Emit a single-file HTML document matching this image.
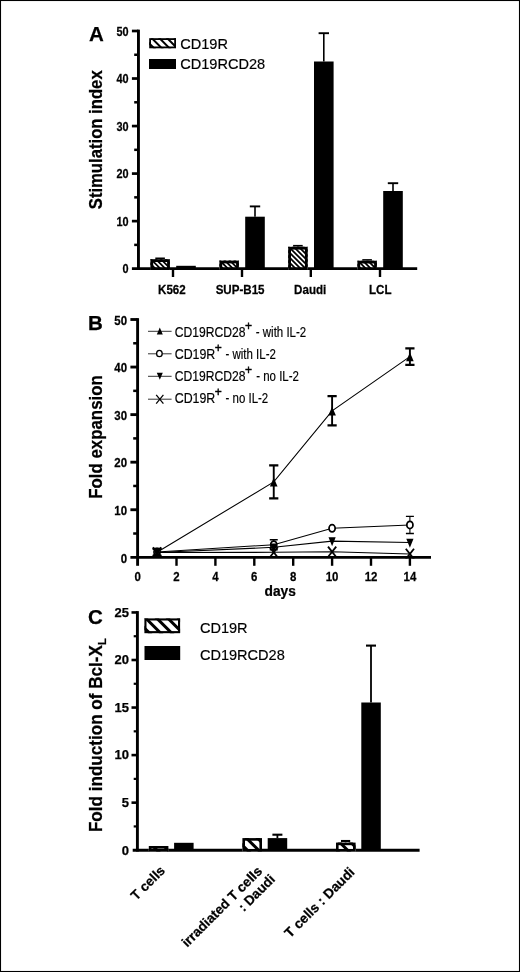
<!DOCTYPE html>
<html lang="en"><head><meta charset="utf-8"><title>Figure</title>
<style>html,body{margin:0;padding:0;background:#fff}svg{display:block}text{font-family:"Liberation Sans", Arial, Helvetica, sans-serif;fill:#000;stroke:#000;stroke-width:0.18px}.b{font-weight:bold;stroke:#000;stroke-width:0.25px}</style></head><body>
<svg width="520" height="972" viewBox="0 0 520 972">
<rect x="0" y="0" width="520" height="972" fill="#fff"/>
<rect x="0.5" y="0.5" width="519" height="971" fill="none" stroke="#000" stroke-width="1.1"/>
<line x1="138.45" y1="29.65" x2="138.45" y2="270.00" stroke="#000" stroke-width="2.90" />
<line x1="131.90" y1="268.65" x2="417.20" y2="268.65" stroke="#000" stroke-width="2.70" />
<text transform="translate(128.70 273.20) scale(0.86 1)" font-size="12.7" text-anchor="end" class="b">0</text>
<line x1="134.20" y1="244.88" x2="138.45" y2="244.88" stroke="#000" stroke-width="2.50" />
<line x1="131.90" y1="221.12" x2="138.45" y2="221.12" stroke="#000" stroke-width="2.70" />
<text transform="translate(128.70 225.67) scale(0.86 1)" font-size="12.7" text-anchor="end" class="b">10</text>
<line x1="134.20" y1="197.35" x2="138.45" y2="197.35" stroke="#000" stroke-width="2.50" />
<line x1="131.90" y1="173.59" x2="138.45" y2="173.59" stroke="#000" stroke-width="2.70" />
<text transform="translate(128.70 178.14) scale(0.86 1)" font-size="12.7" text-anchor="end" class="b">20</text>
<line x1="134.20" y1="149.82" x2="138.45" y2="149.82" stroke="#000" stroke-width="2.50" />
<line x1="131.90" y1="126.06" x2="138.45" y2="126.06" stroke="#000" stroke-width="2.70" />
<text transform="translate(128.70 130.61) scale(0.86 1)" font-size="12.7" text-anchor="end" class="b">30</text>
<line x1="134.20" y1="102.29" x2="138.45" y2="102.29" stroke="#000" stroke-width="2.50" />
<line x1="131.90" y1="78.53" x2="138.45" y2="78.53" stroke="#000" stroke-width="2.70" />
<text transform="translate(128.70 83.08) scale(0.86 1)" font-size="12.7" text-anchor="end" class="b">40</text>
<line x1="134.20" y1="54.76" x2="138.45" y2="54.76" stroke="#000" stroke-width="2.50" />
<line x1="131.90" y1="31.00" x2="138.45" y2="31.00" stroke="#000" stroke-width="2.70" />
<text transform="translate(128.70 35.55) scale(0.86 1)" font-size="12.7" text-anchor="end" class="b">50</text>
<text transform="translate(89.00 40.70)" font-size="20.5" text-anchor="start" class="b">A</text>
<text transform="translate(101.80 139.80) rotate(-90) scale(0.937 1)" font-size="17.8" text-anchor="middle" class="b">Stimulation index</text>
<clipPath id="c1"><rect x="149.20" y="38.20" width="26.80" height="10.10"/></clipPath>
<rect x="149.20" y="38.20" width="26.80" height="10.10" fill="#fff"/>
<g clip-path="url(#c1)" stroke="#000" stroke-width="2.00">
<line x1="126.70" y1="36.20" x2="140.80" y2="50.30"/>
<line x1="134.40" y1="36.20" x2="148.50" y2="50.30"/>
<line x1="142.10" y1="36.20" x2="156.20" y2="50.30"/>
<line x1="149.80" y1="36.20" x2="163.90" y2="50.30"/>
<line x1="157.50" y1="36.20" x2="171.60" y2="50.30"/>
<line x1="165.20" y1="36.20" x2="179.30" y2="50.30"/>
<line x1="172.90" y1="36.20" x2="187.00" y2="50.30"/>
<line x1="180.60" y1="36.20" x2="194.70" y2="50.30"/>
<line x1="188.30" y1="36.20" x2="202.40" y2="50.30"/>
</g>
<rect x="150.10" y="39.10" width="25.00" height="8.30" fill="none" stroke="#000" stroke-width="1.80"/>
<rect x="149" y="59" width="27" height="10" fill="#000"/>
<text transform="translate(180.20 48.60)" font-size="14.55" text-anchor="start">CD19R</text>
<text transform="translate(180.20 69.10)" font-size="14.55" text-anchor="start">CD19RCD28</text>
<line x1="173.00" y1="268.65" x2="173.00" y2="277.00" stroke="#000" stroke-width="2.40" />
<text transform="translate(171.90 293.50) scale(0.92 1)" font-size="12.6" text-anchor="middle" class="b">K562</text>
<line x1="160.10" y1="258.40" x2="160.10" y2="259.20" stroke="#000" stroke-width="1.50" />
<line x1="155.30" y1="258.40" x2="164.90" y2="258.40" stroke="#000" stroke-width="1.80" />
<clipPath id="c2"><rect x="150.40" y="259.20" width="19.50" height="10.80"/></clipPath>
<rect x="150.40" y="259.20" width="19.50" height="10.80" fill="#fff"/>
<g clip-path="url(#c2)" stroke="#000" stroke-width="1.75">
<line x1="128.90" y1="257.20" x2="143.70" y2="272.00"/>
<line x1="133.90" y1="257.20" x2="148.70" y2="272.00"/>
<line x1="138.90" y1="257.20" x2="153.70" y2="272.00"/>
<line x1="143.90" y1="257.20" x2="158.70" y2="272.00"/>
<line x1="148.90" y1="257.20" x2="163.70" y2="272.00"/>
<line x1="153.90" y1="257.20" x2="168.70" y2="272.00"/>
<line x1="158.90" y1="257.20" x2="173.70" y2="272.00"/>
<line x1="163.90" y1="257.20" x2="178.70" y2="272.00"/>
<line x1="168.90" y1="257.20" x2="183.70" y2="272.00"/>
<line x1="173.90" y1="257.20" x2="188.70" y2="272.00"/>
</g>
<rect x="151.80" y="260.60" width="16.70" height="8.00" fill="none" stroke="#000" stroke-width="2.80"/>
<rect x="176.20" y="265.80" width="19.60" height="2.85" fill="#000"/>
<line x1="242.00" y1="268.65" x2="242.00" y2="277.00" stroke="#000" stroke-width="2.40" />
<text transform="translate(240.10 293.50) scale(0.92 1)" font-size="12.6" text-anchor="middle" class="b">SUP-B15</text>
<clipPath id="c3"><rect x="219.40" y="260.60" width="19.50" height="9.40"/></clipPath>
<rect x="219.40" y="260.60" width="19.50" height="9.40" fill="#fff"/>
<g clip-path="url(#c3)" stroke="#000" stroke-width="1.75">
<line x1="202.90" y1="258.60" x2="216.30" y2="272.00"/>
<line x1="207.90" y1="258.60" x2="221.30" y2="272.00"/>
<line x1="212.90" y1="258.60" x2="226.30" y2="272.00"/>
<line x1="217.90" y1="258.60" x2="231.30" y2="272.00"/>
<line x1="222.90" y1="258.60" x2="236.30" y2="272.00"/>
<line x1="227.90" y1="258.60" x2="241.30" y2="272.00"/>
<line x1="232.90" y1="258.60" x2="246.30" y2="272.00"/>
<line x1="237.90" y1="258.60" x2="251.30" y2="272.00"/>
<line x1="242.90" y1="258.60" x2="256.30" y2="272.00"/>
</g>
<rect x="220.80" y="262.00" width="16.70" height="6.60" fill="none" stroke="#000" stroke-width="2.80"/>
<line x1="255.00" y1="206.40" x2="255.00" y2="216.70" stroke="#000" stroke-width="1.60" />
<line x1="249.80" y1="206.40" x2="260.20" y2="206.40" stroke="#000" stroke-width="1.90" />
<rect x="245.20" y="216.70" width="19.60" height="51.95" fill="#000"/>
<line x1="310.80" y1="268.65" x2="310.80" y2="277.00" stroke="#000" stroke-width="2.40" />
<text transform="translate(310.20 293.50) scale(0.92 1)" font-size="12.6" text-anchor="middle" class="b">Daudi</text>
<line x1="297.90" y1="245.80" x2="297.90" y2="246.80" stroke="#000" stroke-width="1.50" />
<line x1="293.10" y1="245.80" x2="302.70" y2="245.80" stroke="#000" stroke-width="1.80" />
<clipPath id="c4"><rect x="288.20" y="246.80" width="19.50" height="23.20"/></clipPath>
<rect x="288.20" y="246.80" width="19.50" height="23.20" fill="#fff"/>
<g clip-path="url(#c4)" stroke="#000" stroke-width="1.75">
<line x1="256.70" y1="244.80" x2="283.90" y2="272.00"/>
<line x1="261.70" y1="244.80" x2="288.90" y2="272.00"/>
<line x1="266.70" y1="244.80" x2="293.90" y2="272.00"/>
<line x1="271.70" y1="244.80" x2="298.90" y2="272.00"/>
<line x1="276.70" y1="244.80" x2="303.90" y2="272.00"/>
<line x1="281.70" y1="244.80" x2="308.90" y2="272.00"/>
<line x1="286.70" y1="244.80" x2="313.90" y2="272.00"/>
<line x1="291.70" y1="244.80" x2="318.90" y2="272.00"/>
<line x1="296.70" y1="244.80" x2="323.90" y2="272.00"/>
<line x1="301.70" y1="244.80" x2="328.90" y2="272.00"/>
<line x1="306.70" y1="244.80" x2="333.90" y2="272.00"/>
<line x1="311.70" y1="244.80" x2="338.90" y2="272.00"/>
</g>
<rect x="289.60" y="248.20" width="16.70" height="20.40" fill="none" stroke="#000" stroke-width="2.80"/>
<line x1="323.80" y1="33.20" x2="323.80" y2="61.50" stroke="#000" stroke-width="1.60" />
<line x1="318.60" y1="33.20" x2="329.00" y2="33.20" stroke="#000" stroke-width="1.90" />
<rect x="314.00" y="61.50" width="19.60" height="207.15" fill="#000"/>
<line x1="380.00" y1="268.65" x2="380.00" y2="277.00" stroke="#000" stroke-width="2.40" />
<text transform="translate(380.20 293.50) scale(0.92 1)" font-size="12.6" text-anchor="middle" class="b">LCL</text>
<line x1="367.10" y1="260.00" x2="367.10" y2="260.70" stroke="#000" stroke-width="1.50" />
<line x1="362.30" y1="260.00" x2="371.90" y2="260.00" stroke="#000" stroke-width="1.80" />
<clipPath id="c5"><rect x="357.40" y="260.70" width="19.50" height="9.30"/></clipPath>
<rect x="357.40" y="260.70" width="19.50" height="9.30" fill="#fff"/>
<g clip-path="url(#c5)" stroke="#000" stroke-width="1.75">
<line x1="340.90" y1="258.70" x2="354.20" y2="272.00"/>
<line x1="345.90" y1="258.70" x2="359.20" y2="272.00"/>
<line x1="350.90" y1="258.70" x2="364.20" y2="272.00"/>
<line x1="355.90" y1="258.70" x2="369.20" y2="272.00"/>
<line x1="360.90" y1="258.70" x2="374.20" y2="272.00"/>
<line x1="365.90" y1="258.70" x2="379.20" y2="272.00"/>
<line x1="370.90" y1="258.70" x2="384.20" y2="272.00"/>
<line x1="375.90" y1="258.70" x2="389.20" y2="272.00"/>
<line x1="380.90" y1="258.70" x2="394.20" y2="272.00"/>
</g>
<rect x="358.80" y="262.10" width="16.70" height="6.50" fill="none" stroke="#000" stroke-width="2.80"/>
<line x1="393.00" y1="183.20" x2="393.00" y2="191.00" stroke="#000" stroke-width="1.60" />
<line x1="387.80" y1="183.20" x2="398.20" y2="183.20" stroke="#000" stroke-width="1.90" />
<rect x="383.20" y="191.00" width="19.60" height="77.65" fill="#000"/>
<line x1="137.60" y1="318.15" x2="137.60" y2="565.80" stroke="#000" stroke-width="2.90" />
<line x1="130.40" y1="557.30" x2="431.00" y2="557.30" stroke="#000" stroke-width="2.70" />
<text transform="translate(127.10 562.55) scale(0.875 1)" font-size="13.1" text-anchor="end" class="b">0</text>
<line x1="133.20" y1="533.52" x2="137.60" y2="533.52" stroke="#000" stroke-width="2.50" />
<line x1="130.40" y1="509.74" x2="137.60" y2="509.74" stroke="#000" stroke-width="2.85" />
<text transform="translate(127.10 514.99) scale(0.875 1)" font-size="13.1" text-anchor="end" class="b">10</text>
<line x1="133.20" y1="485.96" x2="137.60" y2="485.96" stroke="#000" stroke-width="2.50" />
<line x1="130.40" y1="462.18" x2="137.60" y2="462.18" stroke="#000" stroke-width="2.85" />
<text transform="translate(127.10 467.43) scale(0.875 1)" font-size="13.1" text-anchor="end" class="b">20</text>
<line x1="133.20" y1="438.40" x2="137.60" y2="438.40" stroke="#000" stroke-width="2.50" />
<line x1="130.40" y1="414.62" x2="137.60" y2="414.62" stroke="#000" stroke-width="2.85" />
<text transform="translate(127.10 419.87) scale(0.875 1)" font-size="13.1" text-anchor="end" class="b">30</text>
<line x1="133.20" y1="390.84" x2="137.60" y2="390.84" stroke="#000" stroke-width="2.50" />
<line x1="130.40" y1="367.06" x2="137.60" y2="367.06" stroke="#000" stroke-width="2.85" />
<text transform="translate(127.10 372.31) scale(0.875 1)" font-size="13.1" text-anchor="end" class="b">40</text>
<line x1="133.20" y1="343.28" x2="137.60" y2="343.28" stroke="#000" stroke-width="2.50" />
<line x1="130.40" y1="319.50" x2="137.60" y2="319.50" stroke="#000" stroke-width="2.85" />
<text transform="translate(127.10 324.75) scale(0.875 1)" font-size="13.1" text-anchor="end" class="b">50</text>
<text transform="translate(137.60 580.60) scale(0.875 1)" font-size="13.1" text-anchor="middle" class="b">0</text>
<line x1="176.50" y1="557.30" x2="176.50" y2="565.80" stroke="#000" stroke-width="2.40" />
<text transform="translate(176.50 580.60) scale(0.875 1)" font-size="13.1" text-anchor="middle" class="b">2</text>
<line x1="215.40" y1="557.30" x2="215.40" y2="565.80" stroke="#000" stroke-width="2.40" />
<text transform="translate(215.40 580.60) scale(0.875 1)" font-size="13.1" text-anchor="middle" class="b">4</text>
<line x1="254.30" y1="557.30" x2="254.30" y2="565.80" stroke="#000" stroke-width="2.40" />
<text transform="translate(254.30 580.60) scale(0.875 1)" font-size="13.1" text-anchor="middle" class="b">6</text>
<line x1="293.20" y1="557.30" x2="293.20" y2="565.80" stroke="#000" stroke-width="2.40" />
<text transform="translate(293.20 580.60) scale(0.875 1)" font-size="13.1" text-anchor="middle" class="b">8</text>
<line x1="332.10" y1="557.30" x2="332.10" y2="565.80" stroke="#000" stroke-width="2.40" />
<text transform="translate(332.10 580.60) scale(0.875 1)" font-size="13.1" text-anchor="middle" class="b">10</text>
<line x1="371.00" y1="557.30" x2="371.00" y2="565.80" stroke="#000" stroke-width="2.40" />
<text transform="translate(371.00 580.60) scale(0.875 1)" font-size="13.1" text-anchor="middle" class="b">12</text>
<line x1="409.90" y1="557.30" x2="409.90" y2="565.80" stroke="#000" stroke-width="2.40" />
<text transform="translate(409.90 580.60) scale(0.875 1)" font-size="13.1" text-anchor="middle" class="b">14</text>
<text transform="translate(280.20 595.80) scale(0.93 1)" font-size="14.8" text-anchor="middle" class="b">days</text>
<text transform="translate(88.00 329.50)" font-size="20.5" text-anchor="start" class="b">B</text>
<text transform="translate(101.80 437.00) rotate(-90) scale(0.948 1)" font-size="17.8" text-anchor="middle" class="b">Fold expansion</text>
<clipPath id="plotB"><rect x="120" y="300" width="340" height="258.60"/></clipPath>
<g clip-path="url(#plotB)">
<polyline points="157.05,552.31 273.75,481.87 332.10,410.82 409.90,356.60" fill="none" stroke="#000" stroke-width="1.08"/>
<line x1="157.05" y1="548.74" x2="157.05" y2="555.87" stroke="#000" stroke-width="1.90" />
<line x1="152.45" y1="548.74" x2="161.65" y2="548.74" stroke="#000" stroke-width="2.20" />
<line x1="152.45" y1="555.87" x2="161.65" y2="555.87" stroke="#000" stroke-width="2.20" />
<polygon points="157.05,548.31 153.25,557.01 160.85,557.01" fill="#000"/>
<line x1="273.75" y1="465.41" x2="273.75" y2="498.33" stroke="#000" stroke-width="1.90" />
<line x1="269.15" y1="465.41" x2="278.35" y2="465.41" stroke="#000" stroke-width="2.20" />
<line x1="269.15" y1="498.33" x2="278.35" y2="498.33" stroke="#000" stroke-width="2.20" />
<polygon points="273.75,477.87 269.95,486.57 277.55,486.57" fill="#000"/>
<line x1="332.10" y1="396.17" x2="332.10" y2="425.46" stroke="#000" stroke-width="1.90" />
<line x1="327.50" y1="396.17" x2="336.70" y2="396.17" stroke="#000" stroke-width="2.20" />
<line x1="327.50" y1="425.46" x2="336.70" y2="425.46" stroke="#000" stroke-width="2.20" />
<polygon points="332.10,406.82 328.30,415.52 335.90,415.52" fill="#000"/>
<line x1="409.90" y1="348.37" x2="409.90" y2="364.82" stroke="#000" stroke-width="1.90" />
<line x1="405.30" y1="348.37" x2="414.50" y2="348.37" stroke="#000" stroke-width="2.20" />
<line x1="405.30" y1="364.82" x2="414.50" y2="364.82" stroke="#000" stroke-width="2.20" />
<polygon points="409.90,352.60 406.10,361.30 413.70,361.30" fill="#000"/>
<polyline points="157.05,552.07 273.75,544.70 332.10,528.29 409.90,524.96" fill="none" stroke="#000" stroke-width="1.08"/>
<line x1="157.05" y1="549.21" x2="157.05" y2="554.92" stroke="#000" stroke-width="1.10" />
<line x1="153.05" y1="549.21" x2="161.05" y2="549.21" stroke="#000" stroke-width="1.40" />
<line x1="153.05" y1="554.92" x2="161.05" y2="554.92" stroke="#000" stroke-width="1.40" />
<ellipse cx="157.05" cy="552.07" rx="3.05" ry="3.65" fill="#fff" stroke="#000" stroke-width="1.75"/>
<line x1="273.75" y1="539.70" x2="273.75" y2="549.69" stroke="#000" stroke-width="1.10" />
<line x1="269.75" y1="539.70" x2="277.75" y2="539.70" stroke="#000" stroke-width="1.40" />
<line x1="269.75" y1="549.69" x2="277.75" y2="549.69" stroke="#000" stroke-width="1.40" />
<ellipse cx="273.75" cy="544.70" rx="3.05" ry="3.65" fill="#fff" stroke="#000" stroke-width="1.75"/>
<ellipse cx="332.10" cy="528.29" rx="3.05" ry="3.65" fill="#fff" stroke="#000" stroke-width="1.75"/>
<line x1="409.90" y1="516.40" x2="409.90" y2="533.52" stroke="#000" stroke-width="1.10" />
<line x1="405.90" y1="516.40" x2="413.90" y2="516.40" stroke="#000" stroke-width="1.40" />
<line x1="405.90" y1="533.52" x2="413.90" y2="533.52" stroke="#000" stroke-width="1.40" />
<ellipse cx="409.90" cy="524.96" rx="3.05" ry="3.65" fill="#fff" stroke="#000" stroke-width="1.75"/>
<polyline points="157.05,552.54 273.75,547.31 332.10,541.13 409.90,542.56" fill="none" stroke="#000" stroke-width="1.08"/>
<polygon points="157.05,557.74 153.45,548.64 160.65,548.64" fill="#000"/>
<polygon points="273.75,552.51 270.15,543.41 277.35,543.41" fill="#000"/>
<polygon points="332.10,546.33 328.50,537.23 335.70,537.23" fill="#000"/>
<polygon points="409.90,547.76 406.30,538.66 413.50,538.66" fill="#000"/>
<polyline points="157.05,552.54 273.75,552.31 332.10,551.83 409.90,553.97" fill="none" stroke="#000" stroke-width="1.08"/>
<line x1="152.95" y1="547.34" x2="161.15" y2="557.74" stroke="#000" stroke-width="1.80" />
<line x1="152.95" y1="557.74" x2="161.15" y2="547.34" stroke="#000" stroke-width="1.80" />
<line x1="269.65" y1="547.11" x2="277.85" y2="557.51" stroke="#000" stroke-width="1.80" />
<line x1="269.65" y1="557.51" x2="277.85" y2="547.11" stroke="#000" stroke-width="1.80" />
<line x1="328.00" y1="546.63" x2="336.20" y2="557.03" stroke="#000" stroke-width="1.80" />
<line x1="328.00" y1="557.03" x2="336.20" y2="546.63" stroke="#000" stroke-width="1.80" />
<line x1="405.80" y1="548.77" x2="414.00" y2="559.17" stroke="#000" stroke-width="1.80" />
<line x1="405.80" y1="559.17" x2="414.00" y2="548.77" stroke="#000" stroke-width="1.80" />
</g>
<line x1="148.00" y1="331.30" x2="171.60" y2="331.30" stroke="#000" stroke-width="1.00" stroke-opacity="0.8"/>
<polygon points="159.80,327.60 156.80,334.60 162.80,334.60" fill="#000"/>
<text transform="translate(174.70 336.60) scale(0.868 1)" font-size="14" text-anchor="start">CD19RCD28</text>
<text transform="translate(245.00 329.80)" font-size="12" style="stroke-width:0.45px">+</text>
<text transform="translate(255.80 336.60) scale(0.82 1)" font-size="14" text-anchor="start">- with IL-2</text>
<line x1="148.00" y1="353.80" x2="171.60" y2="353.80" stroke="#000" stroke-width="1.00" stroke-opacity="0.8"/>
<ellipse cx="159.40" cy="353.50" rx="2.80" ry="3.20" fill="#fff" stroke="#000" stroke-width="1.30"/>
<text transform="translate(174.70 358.60) scale(0.885 1)" font-size="14" text-anchor="start">CD19R</text>
<text transform="translate(214.70 351.80)" font-size="12" style="stroke-width:0.45px">+</text>
<text transform="translate(225.50 358.60) scale(0.82 1)" font-size="14" text-anchor="start">- with IL-2</text>
<line x1="148.00" y1="376.30" x2="171.60" y2="376.30" stroke="#000" stroke-width="1.00" stroke-opacity="0.8"/>
<polygon points="159.80,379.80 156.80,372.80 162.80,372.80" fill="#000"/>
<text transform="translate(174.70 380.80) scale(0.868 1)" font-size="14" text-anchor="start">CD19RCD28</text>
<text transform="translate(245.00 374.00)" font-size="12" style="stroke-width:0.45px">+</text>
<text transform="translate(256.20 380.80) scale(0.82 1)" font-size="14" text-anchor="start">- no IL-2</text>
<line x1="148.00" y1="399.20" x2="171.60" y2="399.20" stroke="#000" stroke-width="1.00" stroke-opacity="0.8"/>
<line x1="156.20" y1="394.80" x2="163.40" y2="403.60" stroke="#000" stroke-width="1.25" />
<line x1="156.20" y1="403.60" x2="163.40" y2="394.80" stroke="#000" stroke-width="1.25" />
<text transform="translate(174.70 403.00) scale(0.885 1)" font-size="14" text-anchor="start">CD19R</text>
<text transform="translate(214.70 396.20)" font-size="12" style="stroke-width:0.45px">+</text>
<text transform="translate(225.50 403.00) scale(0.82 1)" font-size="14" text-anchor="start">- no IL-2</text>
<line x1="137.40" y1="611.10" x2="137.40" y2="851.55" stroke="#000" stroke-width="2.90" />
<line x1="132.70" y1="850.30" x2="419.60" y2="850.30" stroke="#000" stroke-width="2.90" />
<text transform="translate(129.00 854.50)" font-size="13" text-anchor="end" class="b">0</text>
<line x1="133.70" y1="826.43" x2="137.40" y2="826.43" stroke="#000" stroke-width="2.20" />
<line x1="131.50" y1="802.65" x2="137.40" y2="802.65" stroke="#000" stroke-width="2.60" />
<text transform="translate(129.00 806.95)" font-size="13" text-anchor="end" class="b">5</text>
<line x1="133.70" y1="778.88" x2="137.40" y2="778.88" stroke="#000" stroke-width="2.20" />
<line x1="131.50" y1="755.10" x2="137.40" y2="755.10" stroke="#000" stroke-width="2.60" />
<text transform="translate(129.00 759.40)" font-size="13" text-anchor="end" class="b">10</text>
<line x1="133.70" y1="731.33" x2="137.40" y2="731.33" stroke="#000" stroke-width="2.20" />
<line x1="131.50" y1="707.55" x2="137.40" y2="707.55" stroke="#000" stroke-width="2.60" />
<text transform="translate(129.00 711.85)" font-size="13" text-anchor="end" class="b">15</text>
<line x1="133.70" y1="683.78" x2="137.40" y2="683.78" stroke="#000" stroke-width="2.20" />
<line x1="131.50" y1="660.00" x2="137.40" y2="660.00" stroke="#000" stroke-width="2.60" />
<text transform="translate(129.00 664.30)" font-size="13" text-anchor="end" class="b">20</text>
<line x1="133.70" y1="636.23" x2="137.40" y2="636.23" stroke="#000" stroke-width="2.20" />
<line x1="131.50" y1="612.45" x2="137.40" y2="612.45" stroke="#000" stroke-width="2.60" />
<text transform="translate(129.00 616.75)" font-size="13" text-anchor="end" class="b">25</text>
<text transform="translate(88.00 623.60)" font-size="20.5" text-anchor="start" class="b">C</text>
<text transform="translate(101.6 735.2) rotate(-90) scale(0.961 1)" font-size="17.8" text-anchor="middle" class="b">Fold induction of Bcl-X<tspan font-size="11.5" dy="4.2">L</tspan></text>
<clipPath id="c6"><rect x="144.40" y="618.40" width="35.70" height="14.80"/></clipPath>
<rect x="144.40" y="618.40" width="35.70" height="14.80" fill="#fff"/>
<g clip-path="url(#c6)" stroke="#000" stroke-width="3.00">
<line x1="110.75" y1="616.40" x2="129.55" y2="635.20"/>
<line x1="121.80" y1="616.40" x2="140.60" y2="635.20"/>
<line x1="132.85" y1="616.40" x2="151.65" y2="635.20"/>
<line x1="143.90" y1="616.40" x2="162.70" y2="635.20"/>
<line x1="154.95" y1="616.40" x2="173.75" y2="635.20"/>
<line x1="166.00" y1="616.40" x2="184.80" y2="635.20"/>
<line x1="177.05" y1="616.40" x2="195.85" y2="635.20"/>
<line x1="188.10" y1="616.40" x2="206.90" y2="635.20"/>
<line x1="199.15" y1="616.40" x2="217.95" y2="635.20"/>
</g>
<rect x="145.45" y="619.45" width="33.60" height="12.70" fill="none" stroke="#000" stroke-width="2.10"/>
<rect x="144.5" y="646" width="35.7" height="14" fill="#000"/>
<text transform="translate(199.90 632.90)" font-size="14.55" text-anchor="start">CD19R</text>
<text transform="translate(199.90 660.30)" font-size="14.55" text-anchor="start">CD19RCD28</text>
<clipPath id="c7"><rect x="148.80" y="846.00" width="19.60" height="5.55"/></clipPath>
<rect x="148.80" y="846.00" width="19.60" height="5.55" fill="#fff"/>
<g clip-path="url(#c7)" stroke="#000" stroke-width="3.00">
<line x1="128.70" y1="844.00" x2="138.25" y2="853.55"/>
<line x1="139.75" y1="844.00" x2="149.30" y2="853.55"/>
<line x1="150.80" y1="844.00" x2="160.35" y2="853.55"/>
<line x1="161.85" y1="844.00" x2="171.40" y2="853.55"/>
<line x1="172.90" y1="844.00" x2="182.45" y2="853.55"/>
<line x1="183.95" y1="844.00" x2="193.50" y2="853.55"/>
</g>
<rect x="150.10" y="847.30" width="17.00" height="2.95" fill="none" stroke="#000" stroke-width="2.60"/>
<rect x="174.10" y="842.80" width="19.50" height="7.40" fill="#000"/>
<clipPath id="c8"><rect x="242.40" y="838.10" width="19.60" height="13.45"/></clipPath>
<rect x="242.40" y="838.10" width="19.60" height="13.45" fill="#fff"/>
<g clip-path="url(#c8)" stroke="#000" stroke-width="3.00">
<line x1="211.25" y1="836.10" x2="228.70" y2="853.55"/>
<line x1="222.30" y1="836.10" x2="239.75" y2="853.55"/>
<line x1="233.35" y1="836.10" x2="250.80" y2="853.55"/>
<line x1="244.40" y1="836.10" x2="261.85" y2="853.55"/>
<line x1="255.45" y1="836.10" x2="272.90" y2="853.55"/>
<line x1="266.50" y1="836.10" x2="283.95" y2="853.55"/>
<line x1="277.55" y1="836.10" x2="295.00" y2="853.55"/>
</g>
<rect x="243.70" y="839.40" width="17.00" height="10.85" fill="none" stroke="#000" stroke-width="2.60"/>
<line x1="277.40" y1="834.70" x2="277.40" y2="838.10" stroke="#000" stroke-width="1.80" />
<line x1="272.40" y1="834.70" x2="282.40" y2="834.70" stroke="#000" stroke-width="2.10" />
<rect x="267.70" y="838.10" width="19.50" height="12.10" fill="#000"/>
<line x1="345.60" y1="841.00" x2="345.60" y2="842.60" stroke="#000" stroke-width="1.80" />
<line x1="341.00" y1="841.00" x2="350.20" y2="841.00" stroke="#000" stroke-width="2.10" />
<clipPath id="c9"><rect x="336.00" y="842.60" width="19.60" height="8.95"/></clipPath>
<rect x="336.00" y="842.60" width="19.60" height="8.95" fill="#fff"/>
<g clip-path="url(#c9)" stroke="#000" stroke-width="3.00">
<line x1="304.85" y1="840.60" x2="317.80" y2="853.55"/>
<line x1="315.90" y1="840.60" x2="328.85" y2="853.55"/>
<line x1="326.95" y1="840.60" x2="339.90" y2="853.55"/>
<line x1="338.00" y1="840.60" x2="350.95" y2="853.55"/>
<line x1="349.05" y1="840.60" x2="362.00" y2="853.55"/>
<line x1="360.10" y1="840.60" x2="373.05" y2="853.55"/>
<line x1="371.15" y1="840.60" x2="384.10" y2="853.55"/>
</g>
<rect x="337.30" y="843.90" width="17.00" height="6.35" fill="none" stroke="#000" stroke-width="2.60"/>
<line x1="371.00" y1="645.60" x2="371.00" y2="702.50" stroke="#000" stroke-width="1.80" />
<line x1="366.00" y1="645.60" x2="376.00" y2="645.60" stroke="#000" stroke-width="2.10" />
<rect x="361.30" y="702.50" width="19.50" height="147.70" fill="#000"/>
<text transform="translate(165.80 871.40) rotate(-45)" font-size="13.4" text-anchor="end" class="b">T cells</text>
<text transform="translate(263.00 872.00) rotate(-45)" font-size="13.5" text-anchor="end" class="b">irradiated T cells</text>
<text transform="translate(276.00 880.00) rotate(-45)" font-size="13.5" text-anchor="end" class="b">: Daudi</text>
<text transform="translate(355.50 873.00) rotate(-45)" font-size="13.65" text-anchor="end" class="b">T cells : Daudi</text>
</svg></body></html>
